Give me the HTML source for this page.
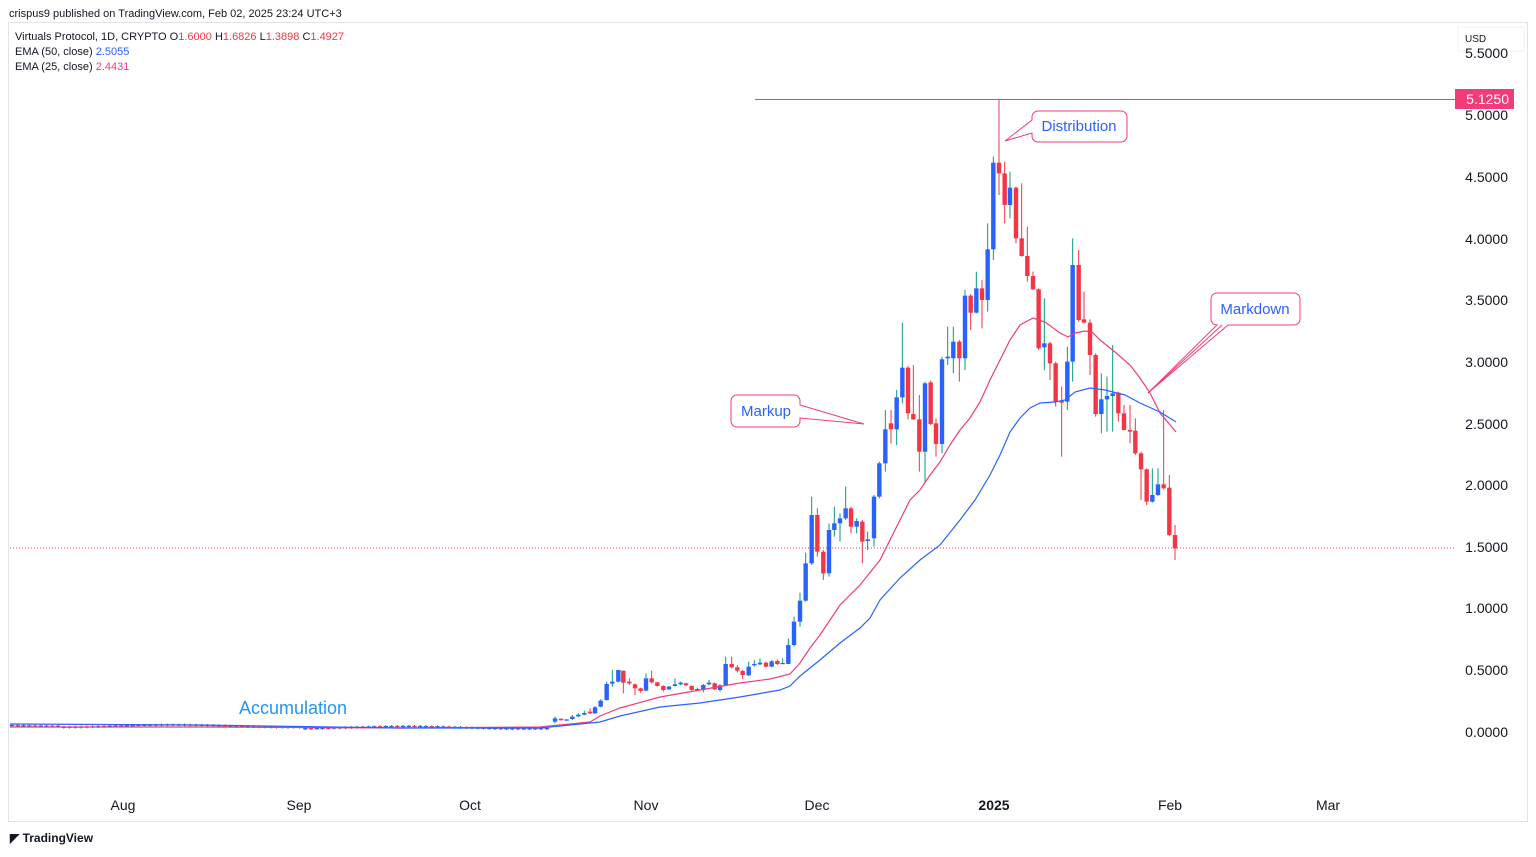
<!DOCTYPE html>
<html><head><meta charset="utf-8"><style>
html,body{margin:0;padding:0;background:#fff;}
body{width:1536px;height:852px;overflow:hidden;font-family:"Liberation Sans",sans-serif;}
</style></head><body>
<svg id="s" width="1536" height="852" xmlns="http://www.w3.org/2000/svg" font-family="Liberation Sans, sans-serif">
<rect x="0" y="0" width="1536" height="852" fill="#fff"/>
<rect x="8.5" y="22.5" width="1519" height="799" fill="none" stroke="#e0e3eb"/>
<text x="9" y="17" font-size="11" fill="#131722">crispus9 published on TradingView.com, Feb 02, 2025 23:24 UTC+3</text>
<text x="15" y="40" font-size="11" fill="#131722">Virtuals Protocol, 1D, CRYPTO  <tspan>O</tspan><tspan fill="#f23645">1.6000</tspan>  H<tspan fill="#f23645">1.6826</tspan>  L<tspan fill="#f23645">1.3898</tspan>  C<tspan fill="#f23645">1.4927</tspan></text>
<text x="15" y="55" font-size="11" fill="#131722">EMA (50, close)  <tspan fill="#2962ff">2.5055</tspan></text>
<text x="15" y="70" font-size="11" fill="#131722">EMA (25, close)  <tspan fill="#f23c78">2.4431</tspan></text>
<rect x="1458" y="27" width="66" height="24" fill="#fff" stroke="#f0f0f3"/>
<text x="1465" y="42" font-size="10" fill="#131722">USD</text>
<g font-size="14" fill="#131722" text-anchor="end">
<text x="1508" y="58">5.5000</text>
<text x="1508" y="120">5.0000</text>
<text x="1508" y="182">4.5000</text>
<text x="1508" y="244">4.0000</text>
<text x="1508" y="305">3.5000</text>
<text x="1508" y="367">3.0000</text>
<text x="1508" y="429">2.5000</text>
<text x="1508" y="490">2.0000</text>
<text x="1508" y="552">1.5000</text>
<text x="1508" y="613">1.0000</text>
<text x="1508" y="675">0.5000</text>
<text x="1508" y="737">0.0000</text>
</g>
<g font-size="14" fill="#131722" text-anchor="middle">
<text x="123" y="810">Aug</text><text x="299" y="810">Sep</text><text x="470" y="810">Oct</text>
<text x="646" y="810">Nov</text><text x="817" y="810">Dec</text>
<text x="994" y="810" font-weight="bold">2025</text><text x="1170" y="810">Feb</text><text x="1328" y="810">Mar</text>
</g>
<text x="10" y="842" font-size="12" font-weight="bold" fill="#131722">◤ TradingView</text>
<line x1="10" y1="548" x2="1455" y2="548" stroke="#f23645" stroke-width="1" stroke-dasharray="1,2"/>
<g id="c"></g>
<polyline fill="none" stroke="#f23c78" stroke-width="1.2" points="10,727 200,727 400,728 540,727 590,722 600,716 620,708 660,697 700,690 740,683 770,679 790,674 800,663 810,648 820,635 840,605 860,585 880,560 900,520 910,500 920,490 930,475 940,462 950,445 960,430 970,418 980,402 990,380 1000,360 1010,340 1020,325 1033,318 1045,322 1060,333 1068,337 1075,333 1085,331 1092,332 1100,340 1115,352 1130,365 1140,378 1150,393 1160,413 1176,432"/>
<polyline fill="none" stroke="#2962ff" stroke-width="1.2" points="10,724 200,725 400,728 540,728 600,722 620,716 660,707 700,703 740,697 780,690 790,686 800,676 820,660 840,643 860,628 870,618 880,600 900,578 920,560 940,545 960,520 975,500 990,475 1000,455 1010,432 1020,418 1030,408 1040,403 1055,402 1065,400 1075,392 1090,388 1105,390 1125,395 1140,403 1160,412 1176,422"/>
<line x1="755" y1="99.5" x2="1455" y2="99.5" stroke="#f23c78"/>
<line x1="999" y1="99" x2="999" y2="140" stroke="#f23c78"/>
<rect x="1455" y="89" width="59" height="20" fill="#f23c78"/>
<text x="1509" y="104" font-size="14" fill="#fff" text-anchor="end">5.1250</text>
<g fill="#fff" stroke="#f23c78" stroke-width="1">
<path d="M1038,111 H1121 a6,6 0 0 1 6,6 V136 a6,6 0 0 1 -6,6 H1038 a6,6 0 0 1 -6,-6 V133 L1005,141 L1032,120 V117 a6,6 0 0 1 6,-6 Z"/>
<path d="M737,395 H794 a6,6 0 0 1 6,6 V405 L864,424 L800,418 V421 a6,6 0 0 1 -6,6 H737 a6,6 0 0 1 -6,-6 V401 a6,6 0 0 1 6,-6 Z"/>
<path d="M1217,293 H1294 a6,6 0 0 1 6,6 V319 a6,6 0 0 1 -6,6 H1228 L1148,393 L1217,325 a6,6 0 0 1 -6,-6 V299 a6,6 0 0 1 6,-6 Z"/>
</g>
<line x1="1222" y1="325" x2="1148" y2="393" stroke="#f23c78"/>
<text x="1079" y="131" font-size="15" fill="#2962ff" text-anchor="middle">Distribution</text>
<text x="766" y="416" font-size="15" fill="#2962ff" text-anchor="middle">Markup</text>
<text x="1255" y="314" font-size="15" fill="#2962ff" text-anchor="middle">Markdown</text>
<text x="293" y="714" font-size="18" fill="#2196f3" text-anchor="middle">Accumulation</text>
</svg>
<script>
var g=document.getElementById('c'),h='';
function cd(x,bt,bb,wt,wb,c){
 var wc=c=='b'?'#089981':'#f23645', bc=c=='b'?'#2962ff':'#f23645';
 h+='<line x1="'+x+'" y1="'+wt+'" x2="'+x+'" y2="'+wb+'" stroke="'+wc+'" stroke-width="1"/>';
 h+='<rect x="'+(x-2.2)+'" y="'+bt+'" width="4.4" height="'+Math.max(1.2,bb-bt)+'" fill="'+bc+'"/>';
}
// flat early period
for(var x=12;x<548;x+=5.75){
 var yy=725.5+Math.sin(x/37)*1.2+(x>300?1.5:0)+(x<60?-1:0);
 var c=(Math.floor(x/5.75)%3==0)?'r':'b';
 cd(x.toFixed(1),yy,yy+1.3,yy-0.8,yy+2,c);
}
var z2=[[45,775,785,770,790,'b'],[63,776,781,776,781,'r'],[80,778,782,778,782,'b'],[97,770,777,765,780,'b'],[115,764,769,760,772,'b'],[133,759,764,752,766,'b'],[150,755,760,745,762,'r'],[165,742,760,738,762,'b'],[182,722,740,718,742,'b'],[200,672,720,665,722,'b'],[217,665,671,630,680,'b'],[235,630,665,630,667,'b'],[250,632,668,632,700,'r'],[268,665,670,655,675,'r'],[285,673,685,670,705,'r'],[302,685,693,683,698,'r'],[318,655,692,640,694,'b'],[335,655,667,632,670,'r'],[352,667,678,665,680,'r'],[370,678,690,676,695,'r'],[387,680,688,678,690,'b'],[405,673,678,655,680,'b'],[422,668,673,665,676,'b'],[438,670,676,668,678,'r'],[455,678,690,676,692,'r'],[472,687,689,683,692,'b'],[490,675,690,672,697,'b'],[507,668,673,660,676,'b'],[524,670,688,668,690,'r'],[540,676,690,673,695,'b'],[557,612,675,590,677,'b'],[575,612,622,590,625,'r'],[592,622,632,615,637,'r'],[608,633,645,630,657,'r'],[626,620,646,605,648,'b'],[643,612,616,600,620,'b'],[660,608,613,595,615,'b'],[678,608,620,605,622,'r'],[695,604,620,600,622,'b'],[712,603,612,598,615,'r'],[728,609,612,595,612,'b'],[745,555,612,535,612,'b'],[762,485,555,470,560,'b'],[780,422,485,398,500,'b'],[797,310,422,278,425,'b']];
z2.forEach(function(a){cd(540+a[0]/3,460+a[1]/3,460+a[2]/3,460+a[3]/3,460+a[4]/3,a[5]);});
var z1=[[95,1275,1420,1220,1425,'b'],[112,1275,1385,1255,1400,'r'],[130,1385,1450,1380,1470,'r'],[147,1320,1450,1300,1460,'b'],[163,1300,1320,1250,1340,'b'],[180,1285,1300,1270,1355,'b'],[197,1255,1285,1190,1290,'b'],[213,1255,1310,1250,1330,'r'],[230,1293,1310,1285,1330,'b'],[247,1295,1355,1290,1420,'r'],[263,1348,1353,1325,1380,'b'],[282,1220,1345,1215,1370,'b'],[298,1120,1220,1115,1225,'b'],[316,1018,1120,960,1145,'b'],[333,1000,1018,960,1060,'r'],[350,922,1018,900,1065,'b'],[367,833,922,698,940,'b'],[384,833,970,828,988,'r'],[400,972,988,825,990,'r'],[418,988,1085,915,1145,'r'],[435,880,1085,875,1180,'b'],[452,877,1002,872,1005,'r'],[468,1000,1062,985,1100,'r'],[486,808,1062,800,1090,'b'],[503,800,805,710,825,'b'],[520,755,805,710,850,'b'],[538,755,805,750,875,'r'],[555,617,805,600,840,'b'],[572,617,668,612,720,'r'],[589,595,668,545,670,'b'],[606,595,630,570,715,'r'],[623,478,630,400,665,'b'],[640,218,478,200,510,'b'],[657,218,250,27,315,'r'],[674,250,345,215,400,'r'],[690,293,345,245,385,'b'],[708,293,445,290,460,'r'],[725,445,498,280,500,'r'],[742,498,558,410,575,'r'],[759,558,598,545,600,'r'],[776,598,775,595,780,'r'],[793,760,772,625,840,'b'],[810,760,820,755,870,'r'],[827,820,935,815,950,'r'],[845,932,938,890,1100,'r'],[862,815,935,770,960,'b'],[878,525,815,445,875,'b'],[896,525,690,480,695,'r'],[912,688,698,605,700,'r'],[930,698,795,688,855,'r'],[947,795,972,790,980,'r'],[964,928,972,850,1030,'b'],[981,918,928,860,1025,'b'],[998,910,918,765,1025,'b'],[1015,908,970,905,995,'r'],[1032,970,1020,945,1022,'r'],[1050,1020,1025,945,1060,'r'],[1066,1022,1090,985,1095,'r'],[1083,1090,1138,1085,1230,'r'],[1100,1138,1235,1135,1245,'r'],[1117,1215,1235,1135,1238,'b'],[1134,1183,1215,1135,1218,'b'],[1151,1183,1195,960,1198,'r'],[1168,1193,1335,1155,1338,'r'],[1185,1335,1375,1305,1410,'r']];
z1.forEach(function(a){cd(780+a[0]/3,90+a[1]/3,90+a[2]/3,90+a[3]/3,90+a[4]/3,a[5]);});
g.innerHTML=h;
</script>
</body></html>
